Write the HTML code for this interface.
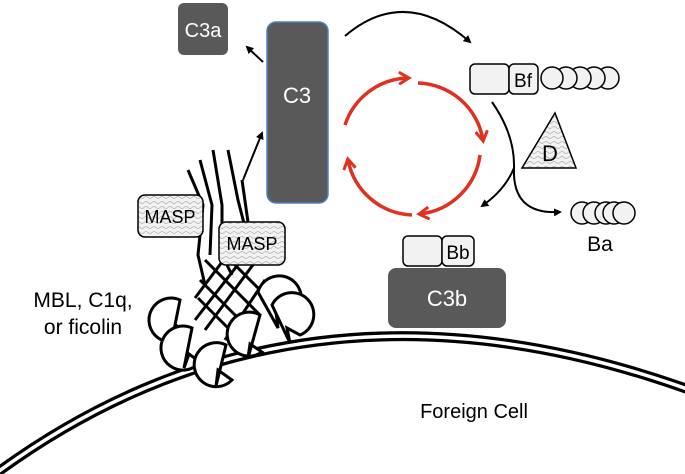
<!DOCTYPE html>
<html><head><meta charset="utf-8"><style>
html,body{margin:0;padding:0;background:#fff;}
svg{display:block;font-family:"Liberation Sans",sans-serif;}
</style></head><body>
<svg width="685" height="474" viewBox="0 0 685 474" xmlns="http://www.w3.org/2000/svg">
<defs>
<pattern id="wv" width="8" height="5" patternUnits="userSpaceOnUse">
<rect width="8" height="5" fill="#f2f2f2"/>
<path d="M0,2.5 Q2,0.5 4,2.5 T8,2.5" fill="none" stroke="#b0b0b0" stroke-width="0.8"/>
</pattern>
<marker id="ab" markerWidth="8" markerHeight="8" refX="6" refY="4" orient="auto" markerUnits="userSpaceOnUse"><path d="M0,0 L8,4 L0,8 z" fill="#000"/></marker>
<marker id="ar" markerWidth="14" markerHeight="14" refX="10" refY="7" orient="auto" markerUnits="userSpaceOnUse"><path d="M1,1 L11,7 L1,13" fill="none" stroke="#e03020" stroke-width="3"/></marker>
</defs>

<!-- membrane -->
<path d="M-5,474 Q300,250 690,390" fill="none" stroke="#000" stroke-width="10"/>
<path d="M-5,474 Q300,250 690,390" fill="none" stroke="#fff" stroke-width="3.5"/>

<!-- C3a -->
<rect x="178" y="3" width="50" height="52" rx="6" fill="#595959"/>
<text x="203" y="37" font-size="20" fill="#fff" text-anchor="middle">C3a</text>
<!-- C3 -->
<rect x="267" y="22" width="61" height="181" rx="9" fill="#595959" stroke="#4f81bd" stroke-width="1.5"/>
<text x="297" y="103" font-size="22" fill="#fff" text-anchor="middle">C3</text>
<line x1="263" y1="62" x2="247" y2="47" stroke="#000" stroke-width="2" marker-end="url(#ab)"/>
<line x1="243" y1="180" x2="262" y2="133" stroke="#000" stroke-width="2" marker-end="url(#ab)"/>
<path d="M345,36 Q405,-15 470,42" fill="none" stroke="#000" stroke-width="2" marker-end="url(#ab)"/>

<!-- red cycle -->
<g fill="none" stroke="#e03020" stroke-width="3.5">
<path d="M345,125 A68,68 0 0 1 408,78" marker-end="url(#ar)"/>
<path d="M418,83 A68,68 0 0 1 483,140" marker-end="url(#ar)"/>
<path d="M480,155 A68,68 0 0 1 420,214" marker-end="url(#ar)"/>
<path d="M412,215 A68,68 0 0 1 348,160" marker-end="url(#ar)"/>
</g>

<!-- Bf -->
<g stroke="#000" stroke-width="1.5" fill="#f2f2f2">
<circle cx="608" cy="78" r="11"/><circle cx="594" cy="78" r="11"/><circle cx="580" cy="78" r="11"/><circle cx="566" cy="78" r="11"/><circle cx="552" cy="78" r="11"/>
<rect x="470" y="64" width="39" height="30" rx="5"/>
<rect x="509" y="64" width="29" height="30" rx="5"/>
</g>
<text x="523" y="87" font-size="19" text-anchor="middle">Bf</text>

<!-- D -->
<path d="M555,113 L576,168 L522,168 Z" fill="url(#wv)" stroke="#000" stroke-width="1.5"/>
<text x="550" y="161" font-size="22" text-anchor="middle">D</text>

<!-- split arrows -->
<path d="M492,102 Q515,135 514,168 Q505,190 482,206" fill="none" stroke="#000" stroke-width="2" marker-end="url(#ab)"/>
<path d="M514,168 Q512,215 560,212" fill="none" stroke="#000" stroke-width="2" marker-end="url(#ab)"/>

<!-- Ba -->
<g stroke="#000" stroke-width="1.5" fill="#f2f2f2">
<circle cx="582" cy="213" r="11"/><circle cx="594" cy="213" r="11"/><circle cx="606" cy="213" r="11"/><circle cx="614" cy="213" r="11"/><circle cx="624" cy="213" r="11"/>
</g>
<text x="600" y="251" font-size="21" text-anchor="middle">Ba</text>

<!-- Bb / C3b -->
<rect x="388" y="268" width="118" height="60" rx="8" fill="#595959"/>
<g stroke="#000" stroke-width="1.5" fill="#f2f2f2">
<rect x="403" y="236" width="39" height="30" rx="5"/>
<rect x="442" y="236" width="32" height="30" rx="5"/>
</g>
<text x="458" y="259" font-size="19" text-anchor="middle">Bb</text>
<text x="447" y="306" font-size="22" fill="#fff" text-anchor="middle">C3b</text>

<!-- strands -->
<g fill="none" stroke="#000" stroke-width="3">
<path d="M188,170 L203,205 L198,255 L205,285"/>
<path d="M200,160 L212,205 L210,255"/>
<path d="M213,150 L222,205 L222,255 L232,275"/>
<path d="M228,150 L238,200 L247,235 L245,262"/>
<path d="M242,180 L248,222"/>
<!-- lattice -->
<path d="M205,260 L260,315"/><path d="M200,280 L245,325"/><path d="M198,298 L230,330"/><path d="M225,255 L265,295"/>
<path d="M255,262 L205,330"/><path d="M240,262 L195,320"/><path d="M222,262 L195,298"/><path d="M265,280 L225,340"/>
</g>

<!-- lectin heads -->
<g fill="#fff" stroke="#000" stroke-width="3">
<path d="M180,300 A22,22 0 1 0 188,334 L177,326 L172,340 Z"/>
<path d="M192,328 A22,22 0 1 0 200,362 L189,354 L184,368 Z"/>
<path d="M226,345 A22,22 0 1 0 232,380 L218,370 L216,386 Z"/>
<path d="M260,315 A22,22 0 1 0 262,352 L250,344 L248,358 Z"/>
<path d="M258,292 A22,22 0 1 1 288,318 L276,312 L278,328 Z"/>
<path d="M272,305 A22,22 0 1 1 300,335 L287,328 L290,343 Z"/>
</g>

<!-- MASP -->
<rect x="138" y="195" width="65" height="42" rx="7" fill="url(#wv)" stroke="#000" stroke-width="1.5"/>
<text x="170" y="223" font-size="18" text-anchor="middle">MASP</text>
<rect x="219" y="222" width="66" height="43" rx="7" fill="url(#wv)" stroke="#000" stroke-width="1.5"/>
<text x="252" y="250" font-size="18" text-anchor="middle">MASP</text>

<!-- labels -->
<g font-size="21" text-anchor="middle">
<text x="83" y="307">MBL, C1q,</text>
<text x="83" y="334">or ficolin</text>
</g>
<text x="474" y="418" font-size="20" text-anchor="middle">Foreign Cell</text>
</svg>
</body></html>
